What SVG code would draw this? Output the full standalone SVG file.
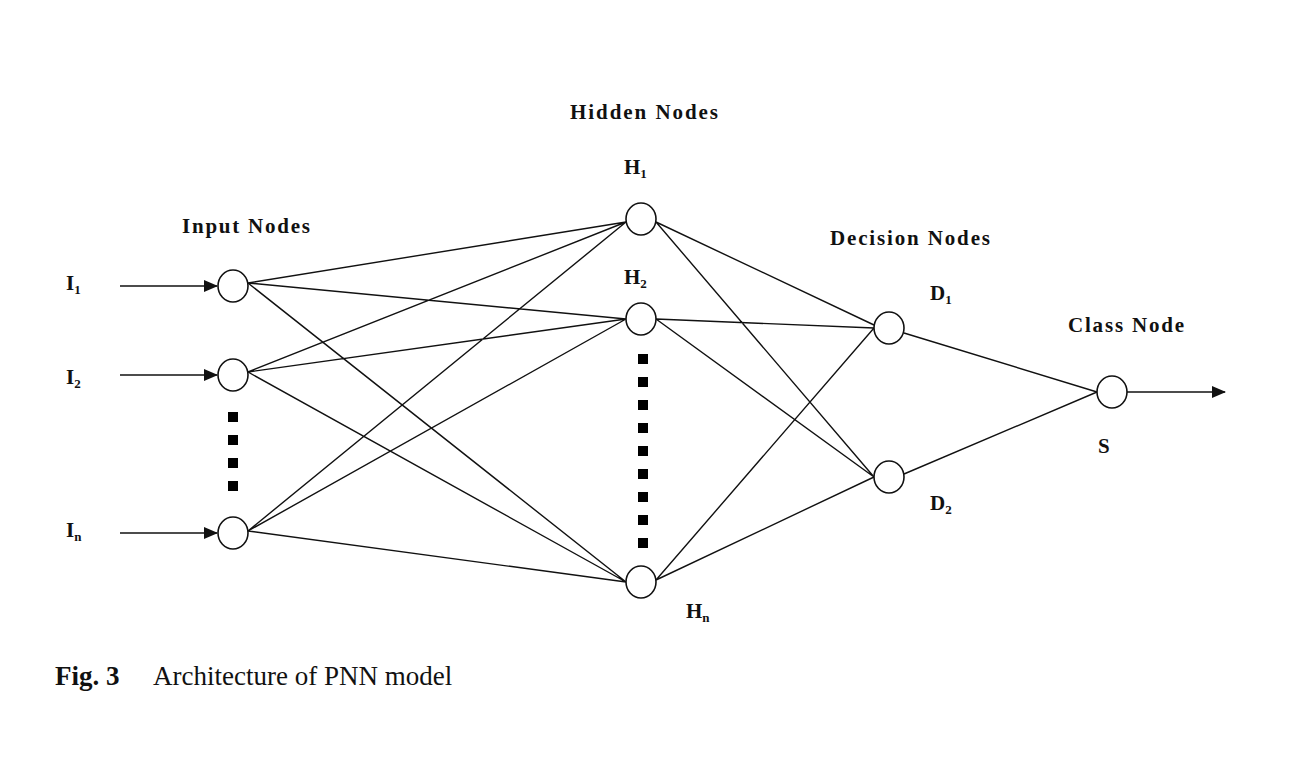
<svg xmlns="http://www.w3.org/2000/svg" width="1302" height="760" viewBox="0 0 1302 760">
<style>
.n{fill:#fff;stroke:#111;stroke-width:1.6}
.e{stroke:#111;stroke-width:1.4;fill:none}
.t{font-family:"Liberation Serif",serif;font-weight:bold;font-size:21px;fill:#111}
.s{font-size:13px}
.cap{font-family:"Liberation Serif",serif;font-size:27px;fill:#111}
</style>
<defs><marker id="a" markerWidth="14" markerHeight="12" refX="13" refY="6" orient="auto" markerUnits="userSpaceOnUse"><path d="M0,0 L14,6 L0,12 z" fill="#111"/></marker></defs>
<rect width="1302" height="760" fill="#fff"/>
<g id="connectors">
<line class="e" x1="120" y1="286" x2="217" y2="286" marker-end="url(#a)"/>
<line class="e" x1="120" y1="375" x2="217" y2="375" marker-end="url(#a)"/>
<line class="e" x1="120" y1="533" x2="217" y2="533" marker-end="url(#a)"/>
<line class="e" x1="1127" y1="392" x2="1225" y2="392" marker-end="url(#a)"/>
<path class="e" d="M248,283L626,222M248,283L626,319M248,283L626,582M248,372L626,222M248,372L626,319M248,372L626,582M248,531L626,222M248,531L626,319M248,531L626,582"/>
<path class="e" d="M656,222L874,325M656,222L874,477M656,319L874,328M656,319L874,477M656,580L874,328M656,580L874,477M904,333L1097,392M904,474L1097,392"/>
</g>
<g id="I1"><ellipse class="n" cx="233" cy="286" rx="15" ry="16"/><text class="t" x="66" y="290">I<tspan class="s" dy="4">1</tspan></text></g>
<g id="I2"><ellipse class="n" cx="233" cy="375" rx="15" ry="16"/><text class="t" x="66" y="384">I<tspan class="s" dy="4">2</tspan></text></g>
<g id="In"><ellipse class="n" cx="233" cy="533" rx="15" ry="16"/><text class="t" x="66" y="537">I<tspan class="s" dy="4">n</tspan></text></g>
<g id="inputdots" fill="#000"><rect x="228" y="412" width="10" height="10"/><rect x="228" y="435" width="10" height="10"/><rect x="228" y="458" width="10" height="10"/><rect x="228" y="481" width="10" height="10"/></g>
<text class="t" x="182" y="233" textLength="128">Input Nodes</text>
<text class="t" x="570" y="119" textLength="148">Hidden Nodes</text>
<g id="H1"><ellipse class="n" cx="641" cy="219" rx="15" ry="16"/><text class="t" x="624" y="174">H<tspan class="s" dy="4">1</tspan></text></g>
<g id="H2"><ellipse class="n" cx="641" cy="319" rx="15" ry="16"/><text class="t" x="624" y="284">H<tspan class="s" dy="4">2</tspan></text></g>
<g id="Hn"><ellipse class="n" cx="641" cy="582" rx="15" ry="16"/><text class="t" x="686" y="618">H<tspan class="s" dy="4">n</tspan></text></g>
<g id="hiddendots" fill="#000"><rect x="638" y="354" width="10" height="10"/><rect x="638" y="377" width="10" height="10"/><rect x="638" y="400" width="10" height="10"/><rect x="638" y="423" width="10" height="10"/><rect x="638" y="446" width="10" height="10"/><rect x="638" y="469" width="10" height="10"/><rect x="638" y="492" width="10" height="10"/><rect x="638" y="515" width="10" height="10"/><rect x="638" y="538" width="10" height="10"/></g>
<text class="t" x="830" y="245" textLength="160">Decision Nodes</text>
<g id="D1"><ellipse class="n" cx="889" cy="328" rx="15" ry="16"/><text class="t" x="930" y="300">D<tspan class="s" dy="4">1</tspan></text></g>
<g id="D2"><ellipse class="n" cx="889" cy="477" rx="15" ry="16"/><text class="t" x="930" y="510">D<tspan class="s" dy="4">2</tspan></text></g>
<g id="S"><ellipse class="n" cx="1112" cy="392" rx="15" ry="16"/><text class="t" x="1098" y="453">S</text></g>
<text class="t" x="1068" y="332" textLength="116">Class Node</text>
<text class="cap" x="55" y="685"><tspan font-weight="bold">Fig. 3</tspan><tspan x="153">Architecture of PNN model</tspan></text>
</svg>
